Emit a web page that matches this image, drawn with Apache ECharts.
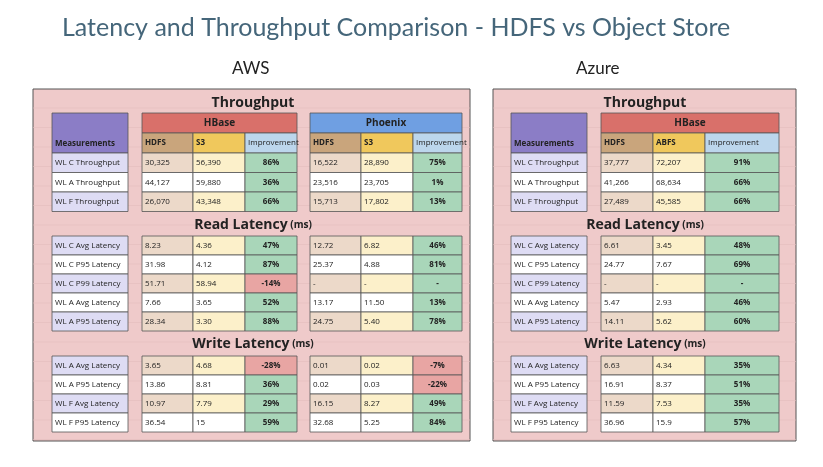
<!DOCTYPE html><html><head><meta charset="utf-8"><script src="https://cdn.jsdelivr.net/npm/echarts@6/dist/echarts.min.js"></script>
<style>body{margin:0;background:#fff}#c{width:823px;height:467px}</style></head><body><div id="c"></div><script>
const title='Latency and Throughput Comparison - HDFS vs Object Store';
const throughputRows=['WL C Throughput','WL A Throughput','WL F Throughput'];
const readRows=['WL C Avg Latency','WL C P95 Latency','WL C P99 Latency','WL A Avg Latency','WL A P95 Latency'];
const writeRows=['WL A Avg Latency','WL A P95 Latency','WL F Avg Latency','WL F P95 Latency'];
const awsHBaseT=[['30,325','56,390','86%'],['44,127','59,880','36%'],['26,070','43,348','66%']];
const awsPhoenixT=[['16,522','28,890','75%'],['23,516','23,705','1%'],['15,713','17,802','13%']];
const awsHBaseR=[['8.23','4.36','47%'],['31.98','4.12','87%'],['51.71','58.94','-14%'],['7.66','3.65','52%'],['28.34','3.30','88%']];
const awsPhoenixR=[['12.72','6.82','46%'],['25.37','4.88','81%'],['-','-','-'],['13.17','11.50','13%'],['24.75','5.40','78%']];
const awsHBaseW=[['3.65','4.68','-28%'],['13.86','8.81','36%'],['10.97','7.79','29%'],['36.54','15','59%']];
const awsPhoenixW=[['0.01','0.02','-7%'],['0.02','0.03','-22%'],['16.15','8.27','49%'],['32.68','5.25','84%']];
const azHBaseT=[['37,777','72,207','91%'],['41,266','68,634','66%'],['27,489','45,585','66%']];
const azHBaseR=[['6.61','3.45','48%'],['24.77','7.67','69%'],['-','-','-'],['5.47','2.93','46%'],['14.11','5.62','60%']];
const azHBaseW=[['6.63','4.34','35%'],['16.91','8.37','51%'],['11.59','7.53','35%'],['36.96','15.9','57%']];

// layout
const C={hdrH:'#d9706a',hdrP:'#6f9fe2',meas:'#8b7dc6',hdfs:'#c9a57c',s3:'#f0c85c',imp:'#bcd6ec',
 tHdfs:'#ecd9c9',tS3:'#fcf0ca',tMeas:'#dedcf4',white:'#ffffff',green:'#a9d6b9',red:'#e8a5a3'};
const rowY={t:[153,172.5,192,211.5],r:[236,255,274,293,312,331],w:[356,375,394,413,432]};
const cells=[],texts=[];
function section(mx,groups,rows,key,secTitle,titleY,panelCx,withHeader){
  texts.push({x:panelCx,y:titleY,t:secTitle});
  const ys=rowY[key];
  if(withHeader){
    cells.push([mx[0],113,mx[1],153,'Measurements',C.meas,1,'left',8]);
    groups.forEach(g=>{
      cells.push([g.x[0],113,g.x[3],133,g.name,g.hc,1,'center',10]);
      cells.push([g.x[0],133,g.x[1],153,'HDFS',C.hdfs,1,'left',8]);
      cells.push([g.x[1],133,g.x[2],153,g.obj,C.s3,1,'left',8]);
      cells.push([g.x[2],133,g.x[3],153,'Improvement',C.imp,0,'left',8]);
    });
  }
  rows.forEach((r,i)=>{
    const tint=i%2===0;
    cells.push([mx[0],ys[i],mx[1],ys[i+1],r,tint?C.tMeas:C.white,0,'left',8]);
    groups.forEach(g=>{
      const v=g.data[key][i];
      cells.push([g.x[0],ys[i],g.x[1],ys[i+1],v[0],tint?C.tHdfs:C.white,0,'left',8]);
      cells.push([g.x[1],ys[i],g.x[2],ys[i+1],v[1],tint?C.tS3:C.white,0,'left',8]);
      cells.push([g.x[2],ys[i],g.x[3],ys[i+1],v[2],v[2].startsWith('-')&&v[2]!=='-'?C.red:C.green,1,'center',8]);
    });
  });
}
function panel(mx,groups,cx){
  section(mx,groups,throughputRows,'t','Throughput',103,cx,true);
  section(mx,groups,readRows,'r','Read Latency',225,cx,false);
  section(mx,groups,writeRows,'w','Write Latency',344,cx,false);
}
panel([52,128],[{x:[142,193,245,297],name:'HBase',hc:C.hdrH,obj:'S3',data:{t:awsHBaseT,r:awsHBaseR,w:awsHBaseW}},
                {x:[310,361,413,462],name:'Phoenix',hc:C.hdrP,obj:'S3',data:{t:awsPhoenixT,r:awsPhoenixR,w:awsPhoenixW}}],253);
panel([511,587],[{x:[601,653,705,779],name:'HBase',hc:C.hdrH,obj:'ABFS',data:{t:azHBaseT,r:azHBaseR,w:azHBaseW}}],645);
const panels=[[33,89,470,441],[493,89,796,441]];

function rect(api,x0,y0,x1,y1){const a=api.coord([x0,y0]),b=api.coord([x1,y1]);return{x:a[0],y:a[1],width:b[0]-a[0],height:b[1]-a[1]};}
const chart=echarts.init(document.getElementById('c'),null,{renderer:'canvas'});
chart.setOption({
 animation:false,
 title:{text:title,left:57,top:10,textStyle:{fontFamily:'Lato',fontWeight:'normal',fontSize:25,color:'#45667a'}},
 grid:{left:0,top:0,right:0,bottom:0},
 xAxis:{type:'value',min:0,max:823,show:false},
 yAxis:{type:'value',min:0,max:467,inverse:true,show:false},
 graphic:[
  {type:'text',left:232,top:60,style:{text:'AWS',font:'17px Lato',fill:'#222'}},
  {type:'text',left:576,top:60,style:{text:'Azure',font:'17px Lato',fill:'#222'}}
 ],
 series:[
  {type:'custom',coordinateSystem:'cartesian2d',data:panels,z:1,
   renderItem:(p,api)=>{const d=panels[p.dataIndex];const r=rect(api,d[0],d[1],d[2],d[3]);
     const ch=[{type:'rect',shape:r,style:{fill:'#efcaca',stroke:'#555',lineWidth:1}}];
     for(let y=d[1]+19;y<d[3];y+=19.5)ch.push({type:'line',shape:{x1:r.x,y1:api.coord([0,y])[1],x2:r.x+r.width,y2:api.coord([0,y])[1]},style:{stroke:'#e2bcbc',lineWidth:0.6}});
     return{type:'group',children:ch};}},
  {type:'custom',coordinateSystem:'cartesian2d',data:cells,z:2,
   renderItem:(p,api)=>{const d=cells[p.dataIndex];const r=rect(api,d[0],d[1],d[2],d[3]);
     return{type:'group',children:[
      {type:'rect',shape:r,style:{fill:d[5],stroke:'#555',lineWidth:0.8}},
      {type:'text',style:{text:d[4],x:d[7]==='center'?r.x+r.width/2:r.x+3,y:d[4]==='Measurements'?r.y+r.height-9:r.y+r.height/2,
        align:d[7],verticalAlign:'middle',font:(d[6]?'bold ':'')+d[8]+'px "Open Sans"',fill:'#222'}}]};}},
  {type:'custom',coordinateSystem:'cartesian2d',data:texts,z:3,
   renderItem:(p,api)=>{const d=texts[p.dataIndex];const c=api.coord([d.x,d.y]);
     const hasMs=d.t!=='Throughput';
     return{type:'text',style:{rich:{a:{font:'bold 14px "Open Sans"',fill:'#222'},b:{font:'bold 10px "Open Sans"',fill:'#222'}},
       text:'{a|'+d.t+'}'+(hasMs?'{b| (ms)}':''),x:c[0],y:c[1],align:'center',verticalAlign:'middle'}};}}
 ]
});
</script></body></html>
